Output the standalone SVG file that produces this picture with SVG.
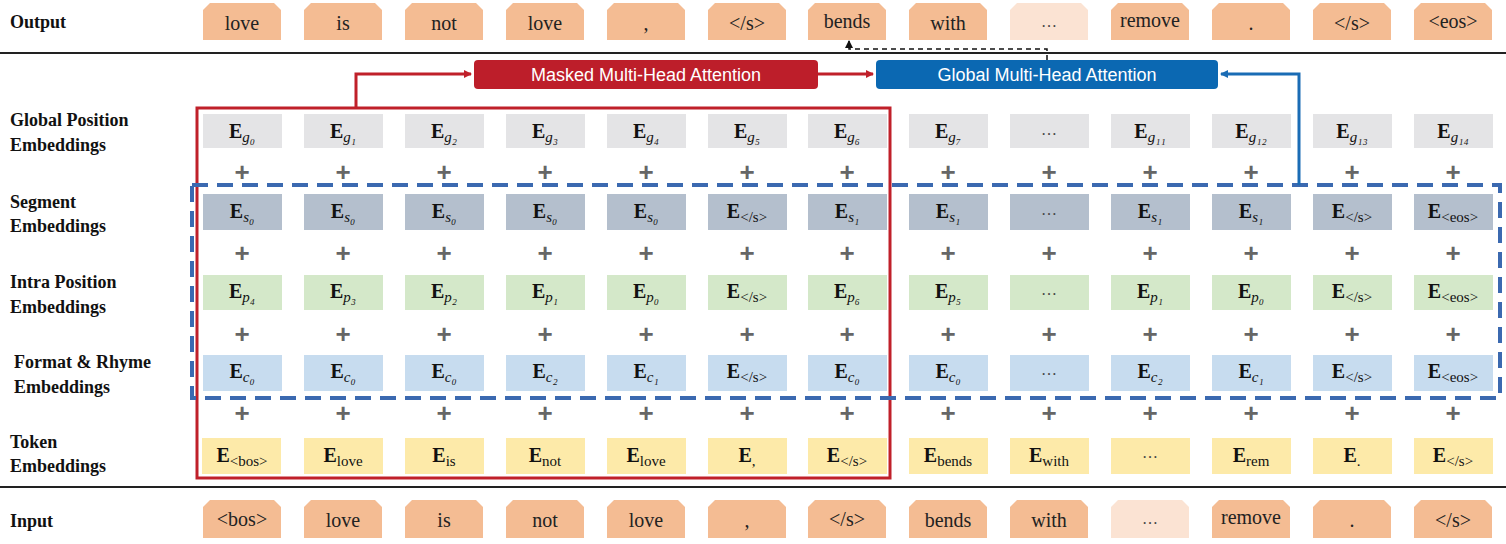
<svg xmlns="http://www.w3.org/2000/svg" width="1506" height="544" viewBox="0 0 1506 544">
<style>
.lbl{font:bold 18px "Liberation Serif",serif;fill:#111}
.tok{font:20px "Liberation Serif",serif;fill:#222;text-anchor:middle}
.e{font:bold 20px "Liberation Serif",serif;fill:#111;text-anchor:middle}
.s{font-style:italic;font-weight:normal;font-size:15px}
.u{font-weight:normal;font-size:15px}
.dots{font:16px "Liberation Serif",serif;fill:#444;text-anchor:middle}
.plus{font:bold 26px "Liberation Sans",sans-serif;fill:#666;text-anchor:middle}
.g{fill:#e4e4e6}.sg{fill:#b4bfcd}.p{fill:#d4e8c9}.c{fill:#c7dcef}.t{fill:#fdeaa9}
.ob{fill:#f4bc93}.obl{fill:#fbe3d3}
.att{font:18px "Liberation Sans",sans-serif;fill:#fff;text-anchor:middle}
</style>
<defs>
<marker id="ar" markerWidth="8" markerHeight="8" refX="7" refY="4" orient="auto" markerUnits="userSpaceOnUse"><path d="M0,0L8,4L0,8z" fill="#c0202a"/></marker>
<marker id="ab" markerWidth="8" markerHeight="8" refX="7" refY="4" orient="auto" markerUnits="userSpaceOnUse"><path d="M0,0L8,4L0,8z" fill="#1a6cb5"/></marker>
<marker id="ak" markerWidth="8" markerHeight="8" refX="7" refY="4" orient="auto" markerUnits="userSpaceOnUse"><path d="M0,0L8,4L0,8z" fill="#111"/></marker>
<path id="chm" d="M-39,40V10L-32,3H32L39,10V40Z"/>
<path id="chi" d="M-39,538V507L-32,500H32L39,507V538Z"/>
</defs>
<rect width="1506" height="544" fill="#fff"/>
<g id="labels">
<text class="lbl" x="10" y="28">Output</text>
<text class="lbl" x="10" y="126">Global Position</text><text class="lbl" x="10" y="151">Embeddings</text>
<text class="lbl" x="10" y="208">Segment</text><text class="lbl" x="10" y="232">Embeddings</text>
<text class="lbl" x="10" y="288">Intra Position</text><text class="lbl" x="10" y="313">Embeddings</text>
<text class="lbl" x="14" y="368">Format &amp; Rhyme</text><text class="lbl" x="14" y="393">Embeddings</text>
<text class="lbl" x="10" y="448">Token</text><text class="lbl" x="10" y="472">Embeddings</text>
<text class="lbl" x="10" y="527">Input</text>
</g>
<g id="rules" stroke="#222" stroke-width="2"><line x1="0" y1="53" x2="1506" y2="53"/><line x1="0" y1="487" x2="1506" y2="487"/></g>
<g id="output">
<use href="#chm" x="242" class="ob"/><text class="tok" x="242" y="30">love</text>
<use href="#chm" x="343" class="ob"/><text class="tok" x="343" y="30">is</text>
<use href="#chm" x="444" class="ob"/><text class="tok" x="444" y="30">not</text>
<use href="#chm" x="545" class="ob"/><text class="tok" x="545" y="30">love</text>
<use href="#chm" x="646" class="ob"/><text class="tok" x="646" y="30">,</text>
<use href="#chm" x="747" class="ob"/><text class="tok" x="747" y="30">&lt;/s&gt;</text>
<use href="#chm" x="847" class="ob"/><text class="tok" x="847" y="28" font-size="16">bends</text>
<use href="#chm" x="948" class="ob"/><text class="tok" x="948" y="30">with</text>
<use href="#chm" x="1049" class="obl"/><text class="dots" x="1049" y="27">…</text>
<use href="#chm" x="1150" class="ob"/><text class="tok" x="1150" y="27" font-size="12">remove</text>
<use href="#chm" x="1251" class="ob"/><text class="tok" x="1251" y="30">.</text>
<use href="#chm" x="1352" class="ob"/><text class="tok" x="1352" y="30">&lt;/s&gt;</text>
<use href="#chm" x="1453" class="ob"/><text class="tok" x="1453" y="28" font-size="15">&lt;eos&gt;</text>
</g>
<g id="input">
<use href="#chi" x="242" class="ob"/><text class="tok" x="242" y="526" font-size="15">&lt;bos&gt;</text>
<use href="#chi" x="343" class="ob"/><text class="tok" x="343" y="527">love</text>
<use href="#chi" x="444" class="ob"/><text class="tok" x="444" y="527">is</text>
<use href="#chi" x="545" class="ob"/><text class="tok" x="545" y="527">not</text>
<use href="#chi" x="646" class="ob"/><text class="tok" x="646" y="527">love</text>
<use href="#chi" x="747" class="ob"/><text class="tok" x="747" y="527">,</text>
<use href="#chi" x="847" class="ob"/><text class="tok" x="847" y="526" font-size="16">&lt;/s&gt;</text>
<use href="#chi" x="948" class="ob"/><text class="tok" x="948" y="527" font-size="18">bends</text>
<use href="#chi" x="1049" class="ob"/><text class="tok" x="1049" y="527">with</text>
<use href="#chi" x="1150" class="obl"/><text class="dots" x="1150" y="524">…</text>
<use href="#chi" x="1251" class="ob"/><text class="tok" x="1251" y="524" font-size="12">remove</text>
<use href="#chi" x="1352" class="ob"/><text class="tok" x="1352" y="527">.</text>
<use href="#chi" x="1453" class="ob"/><text class="tok" x="1453" y="527" font-size="17">&lt;/s&gt;</text>
</g>
<g id="global">
<rect class="g" x="203" y="114" width="79" height="34"/><text class="e" x="242" y="138">E<tspan class="s" dy="4">g₀</tspan></text>
<rect class="g" x="304" y="114" width="79" height="34"/><text class="e" x="343" y="138">E<tspan class="s" dy="4">g₁</tspan></text>
<rect class="g" x="405" y="114" width="79" height="34"/><text class="e" x="444" y="138">E<tspan class="s" dy="4">g₂</tspan></text>
<rect class="g" x="506" y="114" width="79" height="34"/><text class="e" x="545" y="138">E<tspan class="s" dy="4">g₃</tspan></text>
<rect class="g" x="607" y="114" width="79" height="34"/><text class="e" x="646" y="138">E<tspan class="s" dy="4">g₄</tspan></text>
<rect class="g" x="708" y="114" width="79" height="34"/><text class="e" x="747" y="138">E<tspan class="s" dy="4">g₅</tspan></text>
<rect class="g" x="808" y="114" width="79" height="34"/><text class="e" x="847" y="138">E<tspan class="s" dy="4">g₆</tspan></text>
<rect class="g" x="909" y="114" width="79" height="34"/><text class="e" x="948" y="138">E<tspan class="s" dy="4">g₇</tspan></text>
<rect class="g" x="1010" y="114" width="79" height="34"/><text class="dots" x="1049" y="135">…</text>
<rect class="g" x="1111" y="114" width="79" height="34"/><text class="e" x="1150" y="138">E<tspan class="s" dy="4">g₁₁</tspan></text>
<rect class="g" x="1212" y="114" width="79" height="34"/><text class="e" x="1251" y="138">E<tspan class="s" dy="4">g₁₂</tspan></text>
<rect class="g" x="1313" y="114" width="79" height="34"/><text class="e" x="1352" y="138">E<tspan class="s" dy="4">g₁₃</tspan></text>
<rect class="g" x="1414" y="114" width="79" height="34"/><text class="e" x="1453" y="138">E<tspan class="s" dy="4">g₁₄</tspan></text>
</g>
<g id="segment">
<rect class="sg" x="203" y="194" width="79" height="36"/><text class="e" x="242" y="218">E<tspan class="s" dy="4">s₀</tspan></text>
<rect class="sg" x="304" y="194" width="79" height="36"/><text class="e" x="343" y="218">E<tspan class="s" dy="4">s₀</tspan></text>
<rect class="sg" x="405" y="194" width="79" height="36"/><text class="e" x="444" y="218">E<tspan class="s" dy="4">s₀</tspan></text>
<rect class="sg" x="506" y="194" width="79" height="36"/><text class="e" x="545" y="218">E<tspan class="s" dy="4">s₀</tspan></text>
<rect class="sg" x="607" y="194" width="79" height="36"/><text class="e" x="646" y="218">E<tspan class="s" dy="4">s₀</tspan></text>
<rect class="sg" x="708" y="194" width="79" height="36"/><text class="e" x="747" y="218">E<tspan class="u" dy="4">&lt;/s&gt;</tspan></text>
<rect class="sg" x="808" y="194" width="79" height="36"/><text class="e" x="847" y="218">E<tspan class="s" dy="4">s₁</tspan></text>
<rect class="sg" x="909" y="194" width="79" height="36"/><text class="e" x="948" y="218">E<tspan class="s" dy="4">s₁</tspan></text>
<rect class="sg" x="1010" y="194" width="79" height="36"/><text class="dots" x="1049" y="215">…</text>
<rect class="sg" x="1111" y="194" width="79" height="36"/><text class="e" x="1150" y="218">E<tspan class="s" dy="4">s₁</tspan></text>
<rect class="sg" x="1212" y="194" width="79" height="36"/><text class="e" x="1251" y="218">E<tspan class="s" dy="4">s₁</tspan></text>
<rect class="sg" x="1313" y="194" width="79" height="36"/><text class="e" x="1352" y="218">E<tspan class="u" dy="4">&lt;/s&gt;</tspan></text>
<rect class="sg" x="1414" y="194" width="79" height="36"/><text class="e" x="1453" y="218">E<tspan class="u" dy="4">&lt;eos&gt;</tspan></text>
</g>
<g id="intra">
<rect class="p" x="203" y="275" width="79" height="35"/><text class="e" x="242" y="298">E<tspan class="s" dy="4">p₄</tspan></text>
<rect class="p" x="304" y="275" width="79" height="35"/><text class="e" x="343" y="298">E<tspan class="s" dy="4">p₃</tspan></text>
<rect class="p" x="405" y="275" width="79" height="35"/><text class="e" x="444" y="298">E<tspan class="s" dy="4">p₂</tspan></text>
<rect class="p" x="506" y="275" width="79" height="35"/><text class="e" x="545" y="298">E<tspan class="s" dy="4">p₁</tspan></text>
<rect class="p" x="607" y="275" width="79" height="35"/><text class="e" x="646" y="298">E<tspan class="s" dy="4">p₀</tspan></text>
<rect class="p" x="708" y="275" width="79" height="35"/><text class="e" x="747" y="298">E<tspan class="u" dy="4">&lt;/s&gt;</tspan></text>
<rect class="p" x="808" y="275" width="79" height="35"/><text class="e" x="847" y="298">E<tspan class="s" dy="4">p₆</tspan></text>
<rect class="p" x="909" y="275" width="79" height="35"/><text class="e" x="948" y="298">E<tspan class="s" dy="4">p₅</tspan></text>
<rect class="p" x="1010" y="275" width="79" height="35"/><text class="dots" x="1049" y="295">…</text>
<rect class="p" x="1111" y="275" width="79" height="35"/><text class="e" x="1150" y="298">E<tspan class="s" dy="4">p₁</tspan></text>
<rect class="p" x="1212" y="275" width="79" height="35"/><text class="e" x="1251" y="298">E<tspan class="s" dy="4">p₀</tspan></text>
<rect class="p" x="1313" y="275" width="79" height="35"/><text class="e" x="1352" y="298">E<tspan class="u" dy="4">&lt;/s&gt;</tspan></text>
<rect class="p" x="1414" y="275" width="79" height="35"/><text class="e" x="1453" y="298">E<tspan class="u" dy="4">&lt;eos&gt;</tspan></text>
</g>
<g id="format">
<rect class="c" x="203" y="355" width="79" height="36"/><text class="e" x="242" y="378">E<tspan class="s" dy="4">c₀</tspan></text>
<rect class="c" x="304" y="355" width="79" height="36"/><text class="e" x="343" y="378">E<tspan class="s" dy="4">c₀</tspan></text>
<rect class="c" x="405" y="355" width="79" height="36"/><text class="e" x="444" y="378">E<tspan class="s" dy="4">c₀</tspan></text>
<rect class="c" x="506" y="355" width="79" height="36"/><text class="e" x="545" y="378">E<tspan class="s" dy="4">c₂</tspan></text>
<rect class="c" x="607" y="355" width="79" height="36"/><text class="e" x="646" y="378">E<tspan class="s" dy="4">c₁</tspan></text>
<rect class="c" x="708" y="355" width="79" height="36"/><text class="e" x="747" y="378">E<tspan class="u" dy="4">&lt;/s&gt;</tspan></text>
<rect class="c" x="808" y="355" width="79" height="36"/><text class="e" x="847" y="378">E<tspan class="s" dy="4">c₀</tspan></text>
<rect class="c" x="909" y="355" width="79" height="36"/><text class="e" x="948" y="378">E<tspan class="s" dy="4">c₀</tspan></text>
<rect class="c" x="1010" y="355" width="79" height="36"/><text class="dots" x="1049" y="375">…</text>
<rect class="c" x="1111" y="355" width="79" height="36"/><text class="e" x="1150" y="378">E<tspan class="s" dy="4">c₂</tspan></text>
<rect class="c" x="1212" y="355" width="79" height="36"/><text class="e" x="1251" y="378">E<tspan class="s" dy="4">c₁</tspan></text>
<rect class="c" x="1313" y="355" width="79" height="36"/><text class="e" x="1352" y="378">E<tspan class="u" dy="4">&lt;/s&gt;</tspan></text>
<rect class="c" x="1414" y="355" width="79" height="36"/><text class="e" x="1453" y="378">E<tspan class="u" dy="4">&lt;eos&gt;</tspan></text>
</g>
<g id="token">
<rect class="t" x="202" y="438" width="79" height="36"/><text class="e" x="242" y="462">E<tspan class="u" dy="4">&lt;bos&gt;</tspan></text>
<rect class="t" x="304" y="438" width="79" height="36"/><text class="e" x="343" y="462">E<tspan class="u" dy="4">love</tspan></text>
<rect class="t" x="405" y="438" width="79" height="36"/><text class="e" x="444" y="462">E<tspan class="u" dy="4">is</tspan></text>
<rect class="t" x="506" y="438" width="79" height="36"/><text class="e" x="545" y="462">E<tspan class="u" dy="4">not</tspan></text>
<rect class="t" x="607" y="438" width="79" height="36"/><text class="e" x="646" y="462">E<tspan class="u" dy="4">love</tspan></text>
<rect class="t" x="708" y="438" width="79" height="36"/><text class="e" x="747" y="462">E<tspan class="u" dy="4">,</tspan></text>
<rect class="t" x="808" y="438" width="79" height="36"/><text class="e" x="847" y="462">E<tspan class="u" dy="4">&lt;/s&gt;</tspan></text>
<rect class="t" x="909" y="438" width="79" height="36"/><text class="e" x="948" y="462">E<tspan class="u" dy="4">bends</tspan></text>
<rect class="t" x="1010" y="438" width="79" height="36"/><text class="e" x="1049" y="462">E<tspan class="u" dy="4">with</tspan></text>
<rect class="t" x="1111" y="438" width="79" height="36"/><text class="dots" x="1150" y="458">…</text>
<rect class="t" x="1212" y="438" width="79" height="36"/><text class="e" x="1251" y="462">E<tspan class="u" dy="4">rem</tspan></text>
<rect class="t" x="1313" y="438" width="79" height="36"/><text class="e" x="1352" y="462">E<tspan class="u" dy="4">.</tspan></text>
<rect class="t" x="1414" y="438" width="79" height="36"/><text class="e" x="1453" y="462">E<tspan class="u" dy="4">&lt;/s&gt;</tspan></text>
</g>
<g id="plus">
<text class="plus" x="242" y="181">+</text><text class="plus" x="343" y="181">+</text><text class="plus" x="444" y="181">+</text><text class="plus" x="545" y="181">+</text><text class="plus" x="646" y="181">+</text><text class="plus" x="747" y="181">+</text><text class="plus" x="847" y="181">+</text><text class="plus" x="948" y="181">+</text><text class="plus" x="1049" y="181">+</text><text class="plus" x="1150" y="181">+</text><text class="plus" x="1251" y="181">+</text><text class="plus" x="1352" y="181">+</text><text class="plus" x="1453" y="181">+</text>
<text class="plus" x="242" y="262">+</text><text class="plus" x="343" y="262">+</text><text class="plus" x="444" y="262">+</text><text class="plus" x="545" y="262">+</text><text class="plus" x="646" y="262">+</text><text class="plus" x="747" y="262">+</text><text class="plus" x="847" y="262">+</text><text class="plus" x="948" y="262">+</text><text class="plus" x="1049" y="262">+</text><text class="plus" x="1150" y="262">+</text><text class="plus" x="1251" y="262">+</text><text class="plus" x="1352" y="262">+</text><text class="plus" x="1453" y="262">+</text>
<text class="plus" x="242" y="343">+</text><text class="plus" x="343" y="343">+</text><text class="plus" x="444" y="343">+</text><text class="plus" x="545" y="343">+</text><text class="plus" x="646" y="343">+</text><text class="plus" x="747" y="343">+</text><text class="plus" x="847" y="343">+</text><text class="plus" x="948" y="343">+</text><text class="plus" x="1049" y="343">+</text><text class="plus" x="1150" y="343">+</text><text class="plus" x="1251" y="343">+</text><text class="plus" x="1352" y="343">+</text><text class="plus" x="1453" y="343">+</text>
<text class="plus" x="242" y="422">+</text><text class="plus" x="343" y="422">+</text><text class="plus" x="444" y="422">+</text><text class="plus" x="545" y="422">+</text><text class="plus" x="646" y="422">+</text><text class="plus" x="747" y="422">+</text><text class="plus" x="847" y="422">+</text><text class="plus" x="948" y="422">+</text><text class="plus" x="1049" y="422">+</text><text class="plus" x="1150" y="422">+</text><text class="plus" x="1251" y="422">+</text><text class="plus" x="1352" y="422">+</text><text class="plus" x="1453" y="422">+</text>
</g>
<g id="masked"><rect x="474" y="60" width="344" height="29" rx="4" fill="#bd1e2a"/><text class="att" x="646" y="81">Masked Multi-Head Attention</text></g>
<g id="globalatt"><rect x="876" y="60" width="342" height="29" rx="4" fill="#0b68b2"/><text class="att" x="1047" y="81">Global Multi-Head Attention</text></g>
<g id="connectors" fill="none">
<rect x="197" y="108" width="693" height="370" stroke="#c0202a" stroke-width="3"/>
<rect x="192" y="185" width="1308" height="213" stroke="#3b69b0" stroke-width="4" stroke-dasharray="16,9"/>
<path d="M356,108V74H471" stroke="#c0202a" stroke-width="3" marker-end="url(#ar)"/>
<path d="M818,74H873" stroke="#c0202a" stroke-width="3" marker-end="url(#ar)"/>
<path d="M1299,185V74H1221" stroke="#1a6cb5" stroke-width="3" marker-end="url(#ab)"/>
<path d="M1047,60V49H849V41" stroke="#111" stroke-width="1.5" stroke-dasharray="5,4" marker-end="url(#ak)"/>
</g>
</svg>
